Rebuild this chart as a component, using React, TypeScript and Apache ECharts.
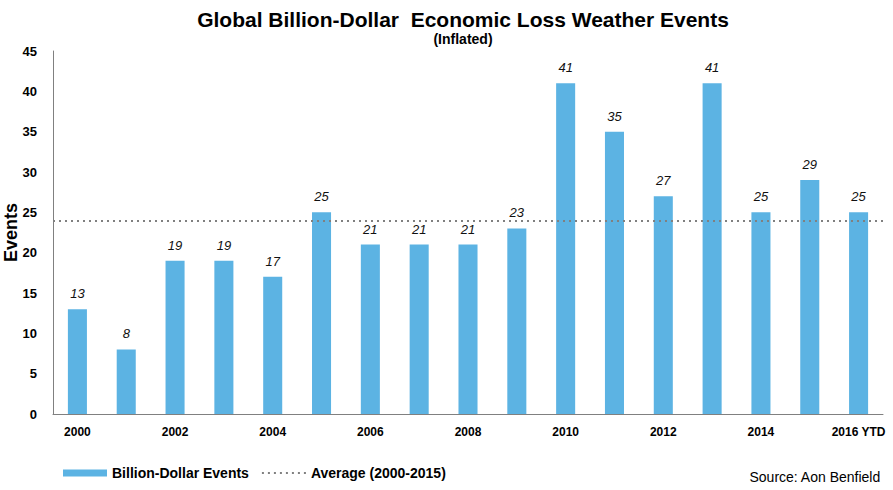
import React, { useEffect, useRef } from "react";
import * as echarts from "echarts";

const categories = ["2000","2001","2002","2003","2004","2005","2006","2007","2008","2009","2010","2011","2012","2013","2014","2015","2016 YTD"];
const events = [13, 8, 19, 19, 17, 25, 21, 21, 21, 23, 41, 35, 27, 41, 25, 29, 25];
const averageValue = 24;
const yTicks = { min: 0, max: 45, interval: 5 };

const FONT = "'Liberation Sans', Arial, sans-serif";

export default function App() {
  const ref = useRef<HTMLDivElement>(null);
  useEffect(() => {
    document.body.style.margin = "0";
    const chart = echarts.init(ref.current!, null, { renderer: "svg" });
    chart.setOption({
      animation: false,
      textStyle: { fontFamily: FONT },
      title: [
        {
          text: "Global Billion-Dollar  Economic Loss Weather Events",
          left: 458,
          textAlign: "center",
          top: 4,
          textStyle: { fontFamily: FONT, fontWeight: "bold", fontSize: 21, color: "#000" },
        },
        {
          text: "(Inflated)",
          left: 458,
          textAlign: "center",
          top: 27,
          textStyle: { fontFamily: FONT, fontWeight: "bold", fontSize: 14, color: "#000" },
        },
      ],
      legend: {
        left: 58,
        bottom: 5,
        itemWidth: 44,
        itemHeight: 7,
        itemGap: 12,
        textStyle: { fontFamily: FONT, fontWeight: "bold", fontSize: 14, color: "#000" },
        data: [
          { name: "Billion-Dollar Events", icon: "rect" },
          { name: "Average (2000-2015)", itemStyle: { opacity: 0 } },
        ],
      },
      graphic: [
        {
          type: "text",
          right: 12,
          bottom: 6,
          style: { text: "Source: Aon Benfield", font: "14px " + FONT, fill: "#000" },
        },
      ],
      grid: { left: 53, right: 10, top: 51, bottom: 76, containLabel: false, outerBoundsMode: "none" },
      xAxis: {
        type: "category",
        data: categories,
        axisLine: { lineStyle: { color: "#808080", width: 1 } },
        axisTick: { show: false },
        axisLabel: { interval: 1, color: "#000", fontWeight: "bold", fontSize: 12, margin: 12, fontFamily: FONT },
      },
      yAxis: {
        type: "value",
        min: yTicks.min,
        max: yTicks.max,
        interval: yTicks.interval,
        name: "Events",
        nameLocation: "middle",
        nameGap: 33,
        nameMoveOverlap: false,
        nameTextStyle: { fontWeight: "bold", fontSize: 18, color: "#000", fontFamily: FONT },
        axisLine: { show: true, lineStyle: { color: "#808080", width: 1 } },
        axisTick: { show: false },
        splitLine: { show: false },
        axisLabel: { color: "#000", fontWeight: "bold", fontSize: 13, margin: 16, fontFamily: FONT },
      },
      series: [
        {
          name: "Billion-Dollar Events",
          type: "bar",
          data: events,
          barWidth: "39%",
          itemStyle: { color: "#5CB3E3" },
          label: {
            show: true,
            position: "top",
            distance: 9,
            fontStyle: "italic",
            fontSize: 13,
            color: "#111",
            fontFamily: FONT,
          },
        },
        {
          name: "Average (2000-2015)",
          type: "line",
          data: [],
          symbol: "none",
          z: 5,
          itemStyle: { color: "#808080" },
          lineStyle: { color: "#808080", width: 2, type: [2, 4] },
          markLine: {
            silent: true,
            symbol: "none",
            label: { show: false },
            lineStyle: { color: "#808080", width: 2, type: [2, 4] },
            data: [{ yAxis: averageValue }],
          },
        },
      ],
    });
    return () => chart.dispose();
  }, []);
  return <div ref={ref} style={{ width: 893, height: 490 }} />;
}
